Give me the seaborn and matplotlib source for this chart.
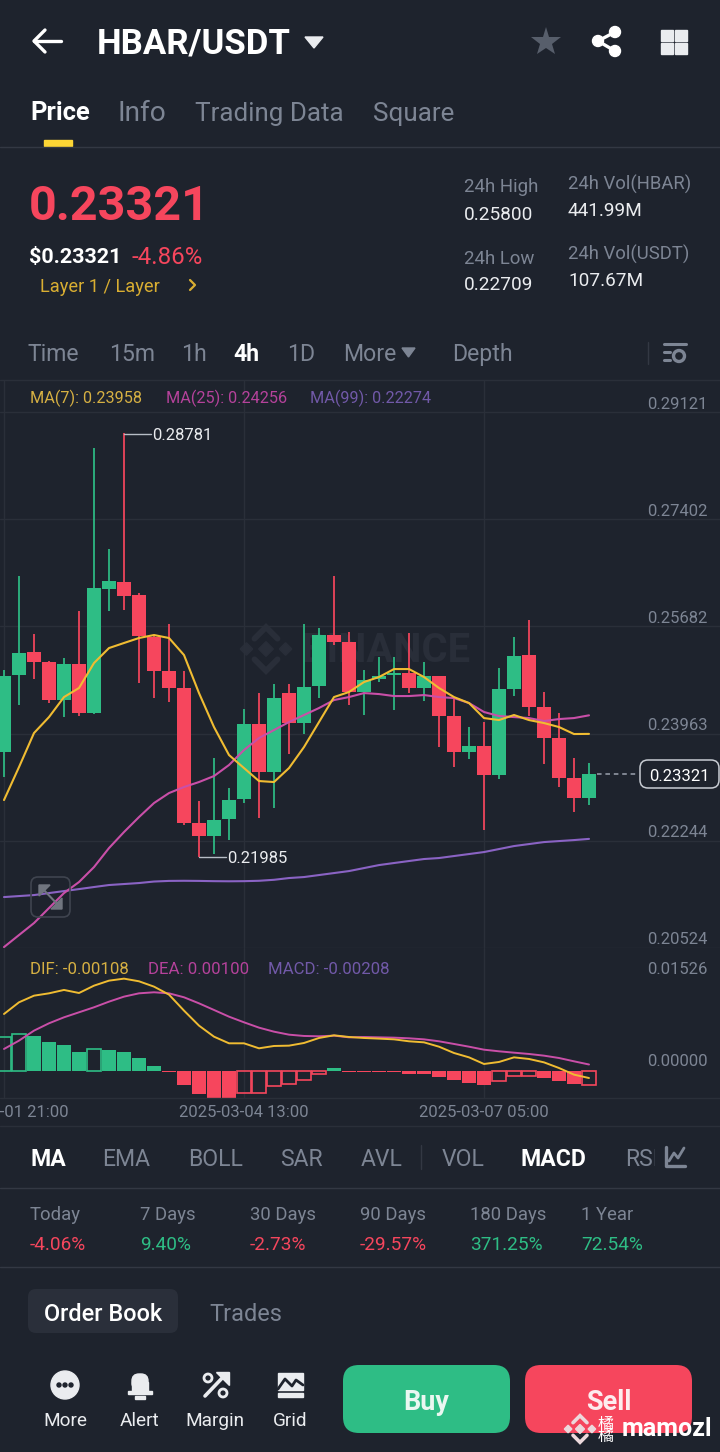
import matplotlib
matplotlib.use('Agg')
import matplotlib.pyplot as plt
from matplotlib.patches import FancyBboxPatch, Rectangle, Circle, Polygon
import numpy as np
import pandas as pd
import seaborn as sns

# candles
open_px = [0.23667, 0.24902, 0.25271, 0.25111, 0.24501, 0.25079, 0.24293, 0.26282, 0.26394, 0.26185,
           0.25512, 0.24966, 0.24694, 0.22528, 0.22320, 0.22592, 0.22913, 0.24116, 0.23346, 0.24613,
           0.24132, 0.24726, 0.25544, 0.25432, 0.24630, 0.24838, 0.24902, 0.24934, 0.24694, 0.24886,
           0.24245, 0.23667, 0.23763, 0.23298, 0.24678, 0.25223, 0.24389, 0.23892, 0.23250, 0.22929]
close_px = [0.24886, 0.25255, 0.25111, 0.24501, 0.25079, 0.24293, 0.26298, 0.26410, 0.26169, 0.25528,
            0.24966, 0.24694, 0.22528, 0.22320, 0.22576, 0.22897, 0.24116, 0.23346, 0.24533, 0.24132,
            0.24710, 0.25544, 0.25432, 0.24630, 0.24822, 0.24886, 0.24934, 0.24694, 0.24886, 0.24245,
            0.23667, 0.23763, 0.23298, 0.24678, 0.25207, 0.24389, 0.23892, 0.23250, 0.22929, 0.23321]
high_px = [0.24982, 0.26490, 0.25560, 0.25127, 0.25175, 0.25929, 0.28544, 0.26923, 0.28781, 0.26218,
           0.25544, 0.25720, 0.24966, 0.22881, 0.23571, 0.23090, 0.24357, 0.24613, 0.24758, 0.24758,
           0.25720, 0.25656, 0.26490, 0.25592, 0.24982, 0.25191, 0.25191, 0.25576, 0.25111, 0.24886,
           0.24533, 0.24068, 0.24148, 0.25015, 0.25512, 0.25784, 0.24630, 0.24293, 0.23571, 0.23491]
low_px = [0.23266, 0.24421, 0.24838, 0.24453, 0.24228, 0.24245, 0.24277, 0.25929, 0.25945, 0.24774,
          0.24533, 0.24469, 0.22496, 0.21985, 0.22031, 0.22255, 0.22849, 0.22608, 0.22769, 0.23635,
          0.23956, 0.24533, 0.25383, 0.24421, 0.24261, 0.24790, 0.24341, 0.24613, 0.24485, 0.23747,
          0.23426, 0.23555, 0.22416, 0.23234, 0.24565, 0.24245, 0.23475, 0.23106, 0.22705, 0.22817]

ma7 = [0.22897, 0.23426, 0.23972, 0.24228, 0.24549, 0.24694, 0.25095, 0.25335, 0.25416, 0.25496,
       0.25544, 0.25496, 0.25223, 0.24613, 0.24068, 0.23619, 0.23410, 0.23202, 0.23186, 0.23410,
       0.23747, 0.24148, 0.24549, 0.24630, 0.24790, 0.24870, 0.24998, 0.24998, 0.24870, 0.24694,
       0.24549, 0.24453, 0.24212, 0.24180, 0.24261, 0.24180, 0.24132, 0.24068, 0.23956, 0.23958]
ma25 = [0.20539, 0.20732, 0.20924, 0.21165, 0.21405, 0.21582, 0.21822, 0.22127, 0.22384, 0.22624,
        0.22849, 0.23009, 0.23106, 0.23186, 0.23282, 0.23459, 0.23699, 0.23892, 0.24020, 0.24148,
        0.24261, 0.24373, 0.24501, 0.24549, 0.24613, 0.24597, 0.24565, 0.24565, 0.24581, 0.24549,
        0.24533, 0.24453, 0.24309, 0.24245, 0.24228, 0.24212, 0.24164, 0.24196, 0.24212, 0.24256]
ma99 = [0.21341, 0.21357, 0.21373, 0.21405, 0.21437, 0.21469, 0.21502, 0.21534, 0.21550, 0.21566,
        0.21590, 0.21600, 0.21602, 0.21600, 0.21596, 0.21594, 0.21596, 0.21602, 0.21618, 0.21646,
        0.21662, 0.21694, 0.21726, 0.21758, 0.21806, 0.21854, 0.21887, 0.21919, 0.21951, 0.21967,
        0.21999, 0.22031, 0.22063, 0.22111, 0.22159, 0.22191, 0.22223, 0.22239, 0.22255, 0.22274]

# macd panel
dif = [0.00877, 0.01057, 0.01159, 0.01195, 0.01247, 0.01200, 0.01313, 0.01390, 0.01421, 0.01380,
       0.01298, 0.01175, 0.00929, 0.00698, 0.00528, 0.00426, 0.00426, 0.00349, 0.00385, 0.00390,
       0.00431, 0.00508, 0.00549, 0.00523, 0.00508, 0.00498, 0.00487, 0.00457, 0.00441, 0.00374,
       0.00277, 0.00210, 0.00108, 0.00139, 0.00210, 0.00185, 0.00133, 0.00046, -0.00056, -0.00108]
dea = [0.00339, 0.00467, 0.00621, 0.00734, 0.00826, 0.00903, 0.00980, 0.01067, 0.01144, 0.01195,
       0.01211, 0.01195, 0.01134, 0.01041, 0.00939, 0.00836, 0.00749, 0.00667, 0.00605, 0.00559,
       0.00539, 0.00534, 0.00544, 0.00518, 0.00523, 0.00518, 0.00513, 0.00503, 0.00487, 0.00457,
       0.00416, 0.00374, 0.00328, 0.00303, 0.00282, 0.00262, 0.00236, 0.00200, 0.00149, 0.00100]
hist = [0.00523, 0.00569, 0.00538, 0.00451, 0.00405, 0.00297, 0.00334, 0.00323, 0.00288, 0.00195,
        0.00082, -0.00015, -0.00220, -0.00358, -0.00420, -0.00420, -0.00338, -0.00338, -0.00235, -0.00195,
        -0.00134, -0.00051, 0.00046, -0.00015, -0.00015, -0.00015, -0.00015, -0.00051, -0.00046, -0.00092,
        -0.00143, -0.00180, -0.00220, -0.00158, -0.00072, -0.00082, -0.00103, -0.00149, -0.00200, -0.00208]
hollow = [1, 1, 0, 0, 0, 0, 1, 0, 0, 0, 0, 0, 0, 0, 0, 0, 1, 1, 1, 1,
          1, 1, 0, 0, 0, 0, 0, 0, 0, 0, 0, 0, 0, 1, 1, 1, 0, 0, 0, 1]

price_ticks = [0.29121, 0.27402, 0.25682, 0.23963, 0.22244, 0.20524]
macd_ticks = [0.01526, 0.00000]
time_ticks = [0, 16, 32]
time_labels = ['2025-03-01 21:00', '2025-03-04 13:00', '2025-03-07 05:00']
last_price = 0.23321

tabs = ['Price', 'Info', 'Trading Data', 'Square']
intervals = ['Time', '15m', '1h', '4h', '1D', 'More', 'Depth']
indicators = ['MA', 'EMA', 'BOLL', 'SAR', 'AVL', 'VOL', 'MACD', 'RSI']
periods = ['Today', '7 Days', '30 Days', '90 Days', '180 Days', '1 Year']
period_changes = ['-4.06%', '9.40%', '-2.73%', '-29.57%', '371.25%', '72.54%']
actions = ['More', 'Alert', 'Margin', 'Grid']

BG = '#1e232d'
GRID = '#2a2f39'
LINE = '#333843'
GREEN = '#2ebd85'
RED = '#f6465d'
YELLOW = '#f0bc32'
PINK = '#c94fa8'
PURPLE = '#8a63c4'
DIM = '#7d8594'
SOFT = '#eaecef'
MARK = '#292e39'

sns.set_theme(style='dark', rc={'figure.facecolor': BG, 'axes.facecolor': 'none', 'savefig.facecolor': BG})
plt.rcParams['font.family'] = ['Roboto', 'Noto Sans CJK SC', 'DejaVu Sans']

W, H = 720, 1452
fig = plt.figure(figsize=(W / 100, H / 100), dpi=100)


def panel(top, bottom, z):
    return fig.add_axes([0, 1 - bottom / H, 1, (bottom - top) / H], zorder=z)


price = panel(380, 948, 1)
macd = panel(948, 1098, 1)
ui = fig.add_axes([0, 0, 1, 1], zorder=5)
ui.set_xlim(0, W)
ui.set_ylim(H, 0)
ui.axis('off')

df = pd.DataFrame({'idx': np.arange(len(open_px)), 'ma7': ma7, 'ma25': ma25, 'ma99': ma99,
                   'dif': dif, 'dea': dea, 'hist': hist, 'hollow': hollow})
df['kind'] = np.where(df['hist'] >= 0, 'up', 'down')
df.loc[df['hollow'] == 1, 'kind'] += '_hollow'

# price scale: px per price from the first and last grid row
per_px = (price_ticks[0] - price_ticks[-1]) / (948 - 412)
price.set_ylim(price_ticks[-1], price_ticks[0] + 32 * per_px)
macd_px = 6500
macd.set_ylim(-27 / macd_px, 123 / macd_px)
for ax in (price, macd):
    ax.set_xlim(-4 / 15, (W - 4) / 15)
    for s in ax.spines.values():
        s.set_visible(False)
    for t in time_ticks:
        ax.axvline(t, color=GRID, lw=1, zorder=0.5)

for t in price_ticks:
    price.axhline(t, color=GRID, lw=1, zorder=0.5)
    price.annotate(f'{t:.5f}', (708, t), xycoords=(ui.get_xaxis_transform(), 'data'),
                   xytext=(0, 8), textcoords='offset pixels', ha='right', va='center',
                   fontsize=16.6 * 0.72, color=DIM, zorder=2)


def logo(ax, cx, cy, s, color, lw, z):
    # exchange mark: two chevrons, centre and side diamonds
    tr = ui.transData
    ax.plot([cx - s / 2, cx, cx + s / 2], [cy - s * 0.45, cy - s * 0.95, cy - s * 0.45], color=color, lw=lw,
            transform=tr, zorder=z, clip_on=False, solid_joinstyle='miter')
    ax.plot([cx - s / 2, cx, cx + s / 2], [cy + s * 0.45, cy + s * 0.95, cy + s * 0.45], color=color, lw=lw,
            transform=tr, zorder=z, clip_on=False, solid_joinstyle='miter')
    for dx, size in [(-s * 0.85, s * 0.27), (0, s * 0.32), (s * 0.85, s * 0.27)]:
        ax.add_patch(Polygon([[cx + dx - size, cy], [cx + dx, cy - size], [cx + dx + size, cy], [cx + dx, cy + size]],
                             color=color, transform=tr, zorder=z, clip_on=False))


# watermark under the candles
logo(price, 266, 649, 23, MARK, 4.2, 0.2)
price.text(301, 651.5, 'BINANCE', transform=ui.transData, fontsize=40 * 0.72, fontweight='bold',
           color=MARK, va='center', zorder=0.2)
price.set_xlim(-4 / 15, (W - 4) / 15)
price.set_ylim(price_ticks[-1], price_ticks[0] + 32 * per_px)

# candles
colors = [GREEN if c >= o else RED for o, c in zip(open_px, close_px)]
price.vlines(df['idx'], low_px, high_px, colors=colors, lw=1.25, zorder=2)
bottoms = np.minimum(open_px, close_px)
heights = np.abs(np.array(close_px) - np.array(open_px))
price.bar(df['idx'], heights, bottom=bottoms, width=0.87, color=colors, linewidth=0, zorder=2.1)

sns.lineplot(data=df, x='idx', y='ma99', color=PURPLE, lw=1.5, ax=price, legend=False, zorder=3)
sns.lineplot(data=df, x='idx', y='ma25', color=PINK, lw=1.5, ax=price, legend=False, zorder=3)
sns.lineplot(data=df, x='idx', y='ma7', color=YELLOW, lw=1.5, ax=price, legend=False, zorder=3)
price.set_xlabel('')
price.set_ylabel('')
price.set_xticks([])
price.set_yticks([])
price.set_xlim(-4 / 15, (W - 4) / 15)

# macd histogram
kinds = ['up', 'down', 'up_hollow', 'down_hollow']
kind_colors = [GREEN, RED, GREEN, RED]
sns.barplot(data=df, x='idx', y='hist', hue='kind', hue_order=kinds, palette=kind_colors, native_scale=True,
            dodge=False, width=0.87, saturation=1, legend=False, linewidth=0, ax=macd, zorder=2)
for cont, col, k in zip(macd.containers, kind_colors, kinds):
    if 'hollow' in k:
        for b in cont:
            b.set_facecolor('none')
            b.set_edgecolor(col)
            b.set_linewidth(1.2)
sns.lineplot(data=df, x='idx', y='dea', color=PINK, lw=1.4, ax=macd, legend=False, zorder=3)
sns.lineplot(data=df, x='idx', y='dif', color=YELLOW, lw=1.4, ax=macd, legend=False, zorder=3)
macd.set_xlim(-4 / 15, (W - 4) / 15)
macd.set_ylim(-27 / macd_px, 123 / macd_px)
macd.set_xlabel('')
macd.set_ylabel('')
macd.set_yticks([])
macd.set_xticks(time_ticks)
macd.set_xticklabels(time_labels, fontsize=16.6 * 0.72, color=DIM)
macd.tick_params(axis='x', length=0, pad=5)
for t, off in zip(macd_ticks, [2, 9]):
    macd.annotate(f'{t:.5f}', (708, t), xycoords=(ui.get_xaxis_transform(), 'data'), xytext=(0, off),
                  textcoords='offset pixels', ha='right', va='center', fontsize=16.6 * 0.72, color=DIM, zorder=2)


# everything below is the app around the chart, placed in screen pixels
def label(x, y, s, px, color=DIM, weight='normal', ha='left'):
    return ui.text(x, y + 1.5, s, fontsize=px * 0.72, color=color, fontweight=weight, ha=ha, va='center')


def rule(y, x0=0, x1=W, color=LINE):
    ui.plot([x0, x1], [y, y], color=color, lw=1)


# header
ui.plot([34, 61], [41, 41], color='white', lw=2.4)
ui.plot([45, 34, 45], [30, 41, 52], color='white', lw=2.4)
label(97, 43, 'HBAR/USDT', 34.8, 'white', 'bold')
ui.add_patch(Polygon([[305, 37], [323, 37], [314, 48]], color=SOFT))
ui.plot([546], [42], marker='*', ms=22, color='#575e6b', mew=0)
for sx, sy in [(598, 41), (615, 32), (615, 51)]:
    ui.add_patch(Circle((sx, sy), 5.5, color='white'))
ui.plot([615, 598, 615], [32, 41, 51], color='white', lw=2.4)
for gx, gy in [(661, 30), (675, 30), (661, 43), (675, 43)]:
    ui.add_patch(Rectangle((gx, gy), 11.5, 11, color=SOFT))

# tabs
for s, x, size, col, wgt in zip(tabs, [30, 117, 195, 373], [25.5, 28, 26, 26], ['white', DIM, DIM, DIM],
                                ['bold', 'normal', 'normal', 'normal']):
    label(x, 112, s, size, col, wgt)
ui.add_patch(Rectangle((44, 140), 28, 6, color='#fcd535'))
rule(147)

# ticker block
label(29, 205, f'{last_price:.5f}', 48.5, RED, 'bold')
label(29, 256, '$0.23321', 21.5, 'white', 'bold')
label(131, 256, '-4.86%', 24, RED)
label(40, 286, 'Layer 1 / Layer', 18.3, '#d9ae32')
ui.plot([190, 195, 190], [280, 285, 290], color='#d9ae32', lw=1.6)
label(464, 186, '24h High', 18.7)
label(464, 213, '0.25800', 19, SOFT)
label(464, 257, '24h Low', 18.7)
label(464, 284, '0.22709', 19, SOFT)
label(568, 183, '24h Vol(HBAR)', 18.5)
label(568, 210, '441.99M', 19, SOFT)
label(568, 253, '24h Vol(USDT)', 18.5)
label(568, 280, '107.67M', 19, SOFT)

# interval row
for s, x in zip(intervals, [28, 109, 181, 233, 287, 343, 452]):
    label(x, 353, s, 23, 'white' if s == '4h' else DIM, 'bold' if s == '4h' else 'normal')
ui.add_patch(Polygon([[402, 348], [415, 348], [408.5, 357]], color=DIM))
ui.plot([648, 648], [342, 364], color=LINE, lw=1)
ui.plot([664, 686], [344, 344], color=DIM, lw=2.2)
ui.plot([664, 670], [352, 352], color=DIM, lw=2.2)
ui.plot([664, 670], [360, 360], color=DIM, lw=2.2)
ui.add_patch(Circle((679, 356), 5.5, fill=False, ec=DIM, lw=2.4))
rule(380, color=GRID)

# chart legends
label(30, 397, 'MA(7): 0.23958', 16.3, '#d6b043')
label(166, 397, 'MA(25): 0.24256', 16.2, '#b5429b')
label(310, 397, 'MA(99): 0.22274', 16.2, '#7159a8')
label(30, 968, 'DIF: -0.00108', 16.8, '#d6b043')
label(148, 968, 'DEA: 0.00100', 16.7, '#b5429b')
label(268, 968, 'MACD: -0.00208', 16.7, '#7159a8')

# high, low and last price tags
ui.plot([124, 151], [434, 434], color='#b7bdc6', lw=1)
label(152, 434, '0.28781', 16.6, SOFT)
ui.plot([199, 226], [857, 857], color='#b7bdc6', lw=1)
label(227, 857, '0.21985', 16.6, SOFT)
ui.plot([597, 638], [774, 774], color='#9aa1ad', lw=1.1, ls=(0, (3, 2.5)))
ui.add_patch(FancyBboxPatch((644, 764), 71, 20, boxstyle='round,pad=4,rounding_size=8', fc=BG, ec='#c8ccd3', lw=1.1, zorder=4))
label(679, 775, f'{last_price:.5f}', 16.6, 'white', ha='center').set_zorder(5)

# expand button
ui.add_patch(FancyBboxPatch((35, 881), 31, 32, boxstyle='round,pad=4,rounding_size=7', fc='none', ec='#3f444f', lw=1.2))
ui.add_patch(Polygon([[39, 885], [50, 885], [39, 896]], color='#70757f'))
ui.add_patch(Polygon([[62, 909], [51, 909], [62, 898]], color='#70757f'))
ui.plot([41, 60], [887, 907], color='#70757f', lw=1.5)

rule(1098, color=GRID)
rule(1126, color=GRID)

# indicator row
for s, x in zip(indicators, [30, 102, 188, 280, 361, 442, 521, 625]):
    bold = s in ('MA', 'MACD')
    label(x, 1158, s, 23, 'white' if bold else DIM, 'bold' if bold else 'normal')
ui.add_patch(Rectangle((655, 1140), 65, 36, color=BG, zorder=3))
ui.plot([421, 421], [1145, 1169], color=LINE, lw=1)
ui.plot([666, 666, 685], [1147, 1166, 1166], color=DIM, lw=2.4, zorder=4)
ui.plot([669, 674, 678, 684], [1161, 1153, 1158, 1148], color=DIM, lw=2, zorder=4)
rule(1188)

# period stats
for s, v, x in zip(periods, period_changes, [30, 140, 250, 360, 470, 581]):
    label(x, 1213, s, 18.5)
    label(x, 1243, v, 19, RED if v.startswith('-') else GREEN)
rule(1267)

# order book tabs
ui.add_patch(FancyBboxPatch((34, 1295), 138, 32, boxstyle='round,pad=6,rounding_size=8', fc='#2a2f3a', ec='none'))
label(44, 1313, 'Order Book', 23.5, 'white', 'medium')
label(209, 1313, 'Trades', 23.5)

# bottom bar
for s, x in zip(actions, [65, 140, 215, 290]):
    label(x, 1419, s, 19, SOFT, ha='center')
ui.add_patch(Circle((65, 1385), 14, color=SOFT))
for dx in (-6, 0, 6):
    ui.add_patch(Circle((65 + dx, 1385), 2, color=BG))
ui.add_patch(FancyBboxPatch((132, 1374), 16, 16, boxstyle='round,pad=0,rounding_size=7', color=SOFT))
ui.add_patch(Rectangle((132, 1382), 16, 10, color=SOFT))
ui.add_patch(Rectangle((128, 1391), 24, 2.5, color=SOFT))
ui.add_patch(Rectangle((135, 1396), 10, 3, color=SOFT))
ui.plot([205, 226], [1396, 1374], color=SOFT, lw=2.6)
ui.add_patch(Polygon([[216, 1372], [229, 1372], [229, 1385]], color=SOFT))
ui.add_patch(Circle((208, 1378), 4, fc='none', ec=SOFT, lw=2))
ui.add_patch(Circle((223, 1393), 4, fc='none', ec=SOFT, lw=2))
ui.add_patch(Polygon([[278, 1373], [303, 1373], [303, 1390], [278, 1390]], color=SOFT))
ui.plot([278, 285, 292, 296, 303], [1389, 1379, 1386, 1380, 1385], color=BG, lw=2)
ui.add_patch(Rectangle((278, 1393), 25, 4, color=SOFT))

ui.add_patch(FancyBboxPatch((353, 1375), 147, 48, boxstyle='round,pad=10,rounding_size=16', fc=GREEN, ec='none'))
ui.add_patch(FancyBboxPatch((535, 1375), 147, 48, boxstyle='round,pad=10,rounding_size=16', fc=RED, ec='none'))
label(426, 1401, 'Buy', 27, '#eaf7f1', 'bold', 'center')
label(609, 1401, 'Sell', 27, '#fdecee', 'bold', 'center')

# feed watermark over the corner
logo(ui, 580, 1429, 14, '#ecd9dc', 2.6, 6)
label(598, 1423, '橘', 16, 'white')
label(598, 1435, '橘', 16, 'white')
label(622, 1428, 'mamozl', 25, 'white', 'bold')
ui.set_xlim(0, W)
ui.set_ylim(H, 0)

fig.savefig('out.png', dpi=100, facecolor=BG)
